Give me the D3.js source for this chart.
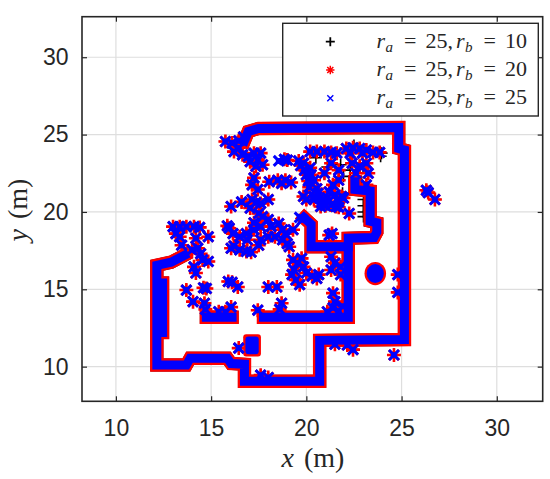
<!DOCTYPE html>
<html>
<head>
<meta charset="utf-8">
<script src="https://cdn.jsdelivr.net/npm/d3@7"></script>
<style>
  body { margin: 0; background: #fff; }
  .tick text { font-family: "Liberation Sans", Arial, sans-serif; font-size: 23px; fill: #262626; }
  .tick line { stroke: #262626; stroke-width: 1.2; }
  .domain { display: none; }
  .serif { font-family: "Liberation Serif", "Times New Roman", serif; fill: #262626; }
</style>
</head>
<body>
<div class="chart"></div>
<script>
// figure size and plot frame
var width = 550;
var height = 479;
var box = {left: 82, top: 16.7, right: 542.7, bottom: 401.3};

// axes
var xDomain = [8.22, 32.41];
var yDomain = [7.76, 32.62];
var xTicks = [10, 15, 20, 25, 30];
var yTicks = [10, 15, 20, 25, 30];

// legend values
var legendRa = [25, 25, 25];
var legendRb = [10, 20, 25];

// map walls (metres)
var wallOuter = [[16.75, 24.6], [16.95, 25.2], [17.5, 25.4], [24.85, 25.45], [24.85, 24.1],
  [25.15, 24.0], [25.15, 11.75], [20.7, 11.7], [20.7, 9.05], [16.75, 9.05], [16.75, 10.15],
  [16.05, 10.2], [15.85, 10.55], [13.9, 10.55], [13.7, 10.1], [12.15, 10.1], [12.15, 16.55],
  [12.9, 16.75], [13.6, 17.2]];
var wallLeftThick = [[12.45, 12.2], [12.45, 15.4]];
var wallStair = [[17.75, 13.2], [22.2, 13.2], [22.2, 18.3], [23.55, 18.35], [23.7, 18.7],
  [23.7, 19.3], [23.35, 19.4], [23.35, 21.35], [22.55, 21.45], [22.55, 21.95]];
var wallBracket = [[19.9, 19.6], [20.25, 19.2], [20.25, 17.75], [22.2, 17.75]];
var wallInnerLeft = [[14.75, 13.2], [16.1, 13.2]];

// solid obstacles: round one [cx, cy, rx, ry], block [x0, y0, x1, y1]
var roundBlob = [23.62, 16.02, 0.45, 0.61];
var squareBlock = [16.8, 10.8, 17.5, 11.95];

// scattered obstacle cells seen by all three settings
var cellsAll = [
  [15.75, 24.55], [16.1, 24.45], [16.45, 24.15], [16.2, 23.9], [16.65, 23.7], [16.7, 24.85], [16.45, 24.6],
  [17.25, 23.8], [17.6, 23.8], [17.45, 23.35], [17.7, 23.05], [17.35, 22.95], [17.05, 23.25],
  [19.0, 23.35], [18.85, 23.4],
  [17.25, 22.2], [17.15, 21.75], [17.45, 21.45],
  [18.05, 21.95], [18.5, 22.05], [18.9, 22.05], [19.2, 21.9], [18.7, 21.85],
  [17.15, 20.8], [17.6, 20.55], [17.05, 20.25], [17.5, 19.9], [18.0, 20.8], [17.35, 20.6],
  [16.6, 20.65], [16.05, 20.35],
  [17.7, 19.7], [18.0, 19.5], [17.6, 19.05], [17.25, 18.85], [16.85, 18.6], [16.5, 18.4],
  [16.15, 18.6], [15.95, 18.95], [15.85, 19.1], [18.15, 19.05], [18.55, 19.25], [18.75, 18.85],
  [18.35, 18.4], [18.0, 18.4], [17.6, 18.2], [16.9, 18.2], [18.75, 18.2], [19.0, 17.95],
  [19.1, 17.75], [18.9, 18.6], [19.3, 18.85], [17.25, 19.3], [16.05, 17.65], [16.2, 17.8],
  [16.5, 17.55], [16.85, 17.45], [17.1, 17.4], [17.5, 17.85],
  [19.3, 16.9], [19.55, 16.7], [19.35, 16.25], [19.75, 17.0], [20.0, 16.05], [20.3, 15.85],
  [20.55, 15.7], [20.65, 15.95], [19.85, 16.45], [19.45, 15.6], [19.65, 15.3], [19.25, 15.95],
  [21.3, 17.1], [21.5, 16.7], [21.8, 16.45], [21.3, 16.25], [21.8, 15.95], [21.4, 14.75],
  [21.5, 14.2], [21.4, 13.8], [21.7, 13.6], [21.1, 13.55], [21.9, 13.9],
  [13.0, 19.05], [13.35, 19.05], [13.7, 19.05], [14.1, 19.05], [14.4, 19.0], [13.15, 18.6],
  [13.35, 18.4], [14.2, 18.3], [14.85, 18.4], [13.45, 17.85], [14.0, 17.55], [14.3, 17.65],
  [14.45, 17.3], [14.55, 16.9], [14.85, 16.8], [14.1, 16.45], [14.2, 16.05],
  [13.7, 14.95], [14.05, 14.2], [14.75, 15.05], [14.6, 15.1], [14.65, 14.1], [14.7, 13.7],
  [15.4, 13.55], [15.75, 13.55], [16.05, 13.85], [15.9, 15.5], [16.1, 15.45], [16.4, 15.15],
  [16.45, 11.2], [17.45, 13.65], [18.0, 15.15], [18.45, 15.15], [18.7, 14.1], [18.6, 13.7],
  [22.15, 11.4], [22.45, 11.1], [21.5, 11.45], [17.6, 9.45], [18.0, 9.3], [24.6, 10.75],
  [24.8, 15.95], [24.8, 14.8], [26.3, 21.4], [26.75, 20.8], [26.4, 21.25],
  [22.1, 24.1], [22.45, 24.15], [22.8, 24.1], [23.15, 24.0], [22.3, 23.8], [22.95, 23.8],
  [23.5, 23.85], [23.85, 23.85],
  [20.2, 23.9], [20.55, 23.9], [20.95, 23.9], [21.3, 23.85], [21.6, 23.8],
  [19.85, 23.15], [20.2, 22.85], [20.0, 22.4], [20.4, 22.05], [20.1, 22.0], [19.7, 23.0],
  [19.6, 23.3], [19.9, 22.7], [20.25, 22.4], [20.15, 21.6], [20.4, 21.0], [20.7, 20.9],
  [21.1, 20.9], [21.2, 21.3], [21.5, 21.1], [21.7, 20.3], [21.0, 20.4],
  [20.95, 22.5], [21.3, 23.15], [21.7, 22.7], [21.7, 22.05], [21.4, 21.75],
  [20.6, 21.2], [20.8, 20.6], [20.4, 20.8], [20.55, 21.5],
  [19.85, 21.0], [20.0, 20.8], [20.85, 20.8], [20.75, 20.35],
  [21.3, 20.45], [21.7, 20.65], [21.85, 21.0], [21.55, 20.35], [21.95, 20.9],
  [22.25, 19.9], [22.4, 23.15], [22.8, 22.95], [23.15, 23.15], [22.6, 22.5], [23.25, 22.5],
  [23.15, 21.75], [21.2, 18.5], [21.35, 18.6]
];
// cells only in the r_b = 10 map
var cellsOnlyA = [[21.8, 23.05], [21.95, 22.3], [22.9, 21.95], [22.98, 22.93], [23.0, 20.8],
  [23.0, 20.4], [23.0, 20.0], [23.0, 19.7], [23.95, 23.8], [22.5, 24.3], [23.9, 23.6],
  [21.1, 22.9], [20.5, 23.5], [21.9, 21.2], [22.3, 22.7]];
// cells only in the r_b = 25 map
var cellsOnlyC = [[18.55, 23.3], [16.95, 23.6], [19.8, 19.5], [19.65, 19.65]];

var walls = [wallOuter, wallLeftThick, wallStair, wallBracket, wallInnerLeft];

// drawing styles per series
var styles = [
  {color: "#000000", wall: 13, marker: "plus", r: 6, sw: 1.6, pad: 0},
  {color: "#ff0000", wall: 13.5, marker: "star", r: 7, sw: 2.6, pad: 2.2},
  {color: "#0000ff", wall: 9, marker: "times", r: 5, sw: 3, pad: 0}
];

const svg = d3.select(".chart")
  .append("svg")
  .attr("width", width)
  .attr("height", height);

const xScale = d3.scaleLinear().domain(xDomain).range([box.left, box.right]);
const yScale = d3.scaleLinear().domain(yDomain).range([box.bottom, box.top]);

// grid
var grid = svg.append("g").attr("class", "grid");
grid.selectAll(".gx").data(xTicks).enter().append("line")
  .attr("x1", d => xScale(d)).attr("x2", d => xScale(d))
  .attr("y1", box.top).attr("y2", box.bottom)
  .attr("stroke", "#dedede").attr("stroke-width", 1.2);
grid.selectAll(".gy").data(yTicks).enter().append("line")
  .attr("y1", d => yScale(d)).attr("y2", d => yScale(d))
  .attr("x1", box.left).attr("x2", box.right)
  .attr("stroke", "#dedede").attr("stroke-width", 1.2);

svg.append("clipPath").attr("id", "clip")
  .append("rect")
  .attr("x", box.left).attr("y", box.top)
  .attr("width", box.right - box.left).attr("height", box.bottom - box.top);

function markerPath(type, r) {
  var d = r * 0.72;
  if (type === "plus") return "M" + (-r) + ",0H" + r + "M0," + (-r) + "V" + r;
  if (type === "times") return "M" + (-r) + "," + (-r) + "L" + r + "," + r + "M" + (-r) + "," + r + "L" + r + "," + (-r);
  return markerPath("plus", r) + "M" + (-d) + "," + (-d) + "L" + d + "," + d + "M" + (-d) + "," + d + "L" + d + "," + (-d);
}

var line = d3.line().x(d => xScale(d[0])).y(d => yScale(d[1]));
var mapG = svg.append("g").attr("clip-path", "url(#clip)");

styles.forEach(function (st, s) {
  var g = mapG.append("g").attr("class", "series-" + s);

  g.selectAll("path.wall").data(walls).enter().append("path")
    .attr("class", "wall")
    .attr("d", line)
    .attr("fill", "none")
    .attr("stroke", st.color)
    .attr("stroke-width", st.wall)
    .attr("stroke-linejoin", "miter")
    .attr("stroke-linecap", "square");

  if (s > 0) {
    g.append("ellipse")
      .attr("cx", xScale(roundBlob[0]))
      .attr("cy", yScale(roundBlob[1]))
      .attr("rx", xScale(roundBlob[0] + roundBlob[2]) - xScale(roundBlob[0]) + st.pad)
      .attr("ry", yScale(roundBlob[1]) - yScale(roundBlob[1] + roundBlob[3]) + st.pad)
      .attr("fill", st.color);
    g.append("rect")
      .attr("x", xScale(squareBlock[0]) - st.pad)
      .attr("y", yScale(squareBlock[3]) - st.pad)
      .attr("width", xScale(squareBlock[2]) - xScale(squareBlock[0]) + 2 * st.pad)
      .attr("height", yScale(squareBlock[1]) - yScale(squareBlock[3]) + 2 * st.pad)
      .attr("rx", 3)
      .attr("fill", st.color);
  }

  var cells = cellsAll.slice();
  if (s === 0) cells = cells.concat(cellsOnlyA);
  if (s === 2) cells = cells.concat(cellsOnlyC);

  g.selectAll("path.cell").data(cells).enter().append("path")
    .attr("class", "cell")
    .attr("transform", d => "translate(" + xScale(d[0]) + "," + yScale(d[1]) + ")")
    .attr("d", markerPath(st.marker, st.r))
    .attr("fill", "none")
    .attr("stroke", st.color)
    .attr("stroke-width", st.sw);
  if (s === 2) {
    g.selectAll("circle.core").data(cells).enter().append("circle")
      .attr("class", "core")
      .attr("cx", d => xScale(d[0])).attr("cy", d => yScale(d[1]))
      .attr("r", 3).attr("fill", st.color);
  }
});

// axes, ticks pointing inward on all four sides
const xAxis = d3.axisBottom(xScale).tickValues(xTicks).tickSizeInner(-5).tickSizeOuter(0).tickPadding(18.4);
const yAxis = d3.axisLeft(yScale).tickValues(yTicks).tickSizeInner(-5).tickSizeOuter(0).tickPadding(13.5);
const xAxisTop = d3.axisTop(xScale).tickValues(xTicks).tickSizeInner(-5).tickSizeOuter(0).tickFormat("");
const yAxisRight = d3.axisRight(yScale).tickValues(yTicks).tickSizeInner(-5).tickSizeOuter(0).tickFormat("");

svg.append("g").attr("id", "x-axis").attr("transform", "translate(0," + box.bottom + ")").call(xAxis);
svg.append("g").attr("id", "y-axis").attr("transform", "translate(" + box.left + ",0)").call(yAxis);
svg.append("g").attr("transform", "translate(0," + box.top + ")").call(xAxisTop);
svg.append("g").attr("transform", "translate(" + box.right + ",0)").call(yAxisRight);

svg.append("rect")
  .attr("x", box.left).attr("y", box.top)
  .attr("width", box.right - box.left).attr("height", box.bottom - box.top)
  .attr("fill", "none").attr("stroke", "#262626").attr("stroke-width", 1.6);

// axis labels
var xl = svg.append("text").attr("class", "serif")
  .attr("x", 313).attr("y", 467).attr("text-anchor", "middle").style("font-size", "28px");
xl.append("tspan").style("font-style", "italic").text("x");
xl.append("tspan").attr("dx", 10).text("(m)");

var yl = svg.append("text").attr("class", "serif")
  .attr("transform", "translate(27,210) rotate(-90)").attr("text-anchor", "middle").style("font-size", "28px");
yl.append("tspan").style("font-style", "italic").text("y");
yl.append("tspan").attr("dx", 10).text("(m)");

// legend
var legend = svg.append("g").attr("id", "legend");
legend.append("rect")
  .attr("x", 282.7).attr("y", 23.3).attr("width", 255.6).attr("height", 92.7)
  .attr("fill", "#fff").attr("stroke", "#262626").attr("stroke-width", 1.4);

var legendMarks = [
  {marker: "plus", r: 4.5, sw: 1.8},
  {marker: "star", r: 4.2, sw: 1.5},
  {marker: "times", r: 3, sw: 1.4}
];

legendRb.forEach(function (rb, i) {
  var cy = 41.7 + i * 28.3;
  legend.append("path")
    .attr("transform", "translate(330.3," + cy + ")")
    .attr("d", markerPath(legendMarks[i].marker, legendMarks[i].r))
    .attr("fill", "none")
    .attr("stroke", styles[i].color)
    .attr("stroke-width", legendMarks[i].sw);

  var t = legend.append("text").attr("class", "serif")
    .attr("x", 527).attr("y", cy + 6)
    .attr("text-anchor", "end").style("font-size", "22px");
  t.append("tspan").style("font-style", "italic").text("r");
  t.append("tspan").style("font-style", "italic").style("font-size", "15px").attr("dy", 4).attr("dx", 0.5).text("a");
  t.append("tspan").attr("dy", -4).attr("dx", 11).text("=");
  t.append("tspan").attr("dx", 9).text(legendRa[i] + ",");
  t.append("tspan").attr("dx", 3).style("font-style", "italic").text("r");
  t.append("tspan").style("font-style", "italic").style("font-size", "15px").attr("dy", 4).attr("dx", 0.5).text("b");
  t.append("tspan").attr("dy", -4).attr("dx", 11).text("=");
  t.append("tspan").attr("dx", 9).text(rb);
});
</script>
</body>
</html>
